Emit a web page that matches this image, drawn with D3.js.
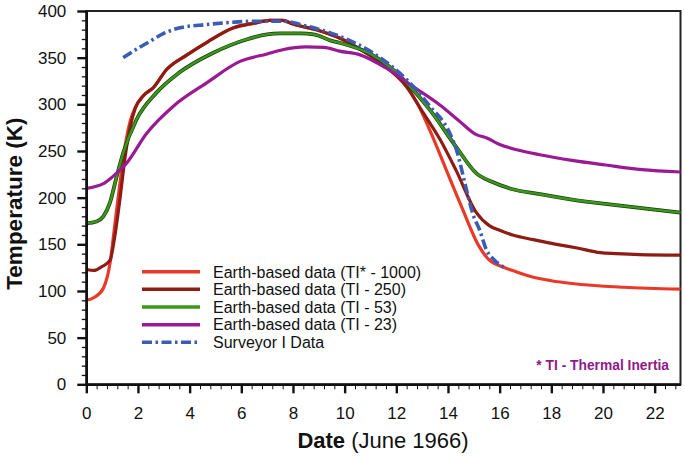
<!DOCTYPE html>
<html>
<head>
<meta charset="utf-8">
<script src="https://cdn.jsdelivr.net/npm/d3@7"></script>
<style>
    body { margin: 0; background: #fff; }
    svg { font-family: "Liberation Sans", Arial, sans-serif; }
</style>
</head>
<body>
<script>
//each series is a list of [day, temperature] pairs
let ti1000 = [[0,90],[0.3,93],[0.66,103],[0.92,130],[1.1,170],[1.3,215],[1.5,255],[1.7,282],[1.9,297],[2.2,309],[2.6,318],[3.1,337],[3.9,353],[4.7,367],[5.7,382],[6.5,387],[7.1,390],[7.6,390],[8.0,386],[8.9,380],[9.8,371],[10.6,359],[11.7,338],[12.3,322],[12.8,302],[13.3,272],[13.9,232],[14.5,192],[15.2,148],[15.6,133],[16.0,127],[16.5,122],[17.2,115.5],[18.0,111],[18.8,108],[20.8,104],[23,102]];
let ti250 = [[0,123],[0.3,122],[0.6,126],[0.92,133],[1.1,158],[1.3,198],[1.5,243],[1.7,276],[1.9,296],[2.2,309],[2.6,318],[3.1,337],[3.9,353],[4.7,367],[5.7,382],[6.5,387],[7.1,390],[7.6,390],[8.0,386],[8.9,380],[9.8,371],[10.6,359],[11.7,338],[12.4,319],[12.9,297],[13.7,262],[14.3,230],[15.1,184],[15.6,170],[16.0,165],[16.5,160],[17.3,155],[18.2,150],[19.0,146],[19.9,141],[20.5,140],[21.4,139],[23,138.5]];
let ti53 = [[0,172.5],[0.4,174.5],[0.66,180],[0.92,195],[1.17,222],[1.43,248],[1.95,284],[2.7,312],[3.6,334],[4.9,355],[6.2,369.5],[7.0,375],[7.5,376],[8.3,376],[8.8,375],[9.5,368],[9.8,366],[10.5,360],[11.0,354],[11.75,340],[12.4,323],[13.3,294],[14.3,255],[15.1,226],[15.7,217],[16.5,209],[17.5,204],[18.8,198],[20.5,192],[23,184]];
let ti23 = [[0,210],[0.66,215],[1.0,222],[1.56,237],[2.34,269],[3.37,298],[4.66,323],[5.95,346],[7.0,354],[7.6,358.5],[8.5,361.5],[9.2,361],[9.8,357],[10.6,353],[11.6,339],[12.65,319],[13.7,299],[14.4,283],[15.1,267.5],[15.5,264],[16.0,257],[16.7,251],[17.55,246],[18.8,240],[20.1,235],[21.5,230],[23,227.5]];
let surveyor = [[1.43,350],[2.0,360],[2.46,367.5],[3.0,376],[3.62,382],[4.66,385.5],[5.68,388],[6.5,389],[7.62,389],[8.5,384],[9.8,373],[11.1,355],[12.4,326.5],[13.3,298],[14.07,269],[14.33,251],[14.72,208],[14.97,182],[15.23,165],[15.49,144],[15.8,133],[16.26,124]];

let seriesLabels = ['Earth-based data (TI* - 1000)', 'Earth-based data (TI - 250)', 'Earth-based data (TI - 53)', 'Earth-based data (TI - 23)', 'Surveyor I Data'];
let xTicks = [0, 2, 4, 6, 8, 10, 12, 14, 16, 18, 20, 22];
let yTicks = [0, 50, 100, 150, 200, 250, 300, 350, 400];

//chart constants
let totalWidth = 685;
let totalHeight = 459;
let margins = {
    top: 11,
    right: 4.5,
    bottom: 74.7,
    left: 86.3
};

let series = [
    { data: ti1000, color: '#e83a28', width: 3.2 },
    { data: ti250, color: '#8e1c14', width: 3.2 },
    { data: ti53, color: '#3a9a18', width: 2.4, outline: true },
    { data: ti23, color: '#9a1a94', width: 3.2 },
    { data: surveyor, color: '#3a5cb6', width: 3.6, dash: '10,3.5,2.5,3.5' }
];

let xScale = d3.scaleLinear()
    .domain([0, 23])
    .range([margins.left, totalWidth - margins.right]);

let yScale = d3.scaleLinear()
    .domain([0, 400])
    .range([totalHeight - margins.bottom, margins.top]);

let svg = d3.select('body')
    .append('svg')
    .attr('width', totalWidth)
    .attr('height', totalHeight);

//frame round the plot
svg.append('rect')
    .attr('x', xScale(0))
    .attr('y', yScale(400))
    .attr('width', xScale(23) - xScale(0))
    .attr('height', yScale(0) - yScale(400))
    .attr('fill', 'none')
    .attr('stroke', '#222')
    .attr('stroke-width', 2);

let line = d3.line()
    .x(function(d){ return xScale(d[0]) })
    .y(function(d){ return yScale(d[1]) })
    .curve(d3.curveMonotoneX);

let curves = svg.append('g').attr('id', 'curves');

for (let i=0; i<series.length; i++){
    let s = series[i];
    //green curve has a thin dark edge
    if (s.outline){
        curves.append('path')
            .attr('d', line(s.data))
            .attr('fill', 'none')
            .attr('stroke', '#1c3a10')
            .attr('stroke-width', s.width + 1.4);
    }
    curves.append('path')
        .attr('d', line(s.data))
        .attr('fill', 'none')
        .attr('stroke', s.color)
        .attr('stroke-width', s.width)
        .attr('stroke-dasharray', s.dash || null)
        .attr('stroke-linejoin', 'round');
}

//minor ticks first, then the labelled ones
svg.append('g')
    .attr('transform', `translate(0, ${yScale(0)})`)
    .call(d3.axisBottom(xScale).tickValues(d3.range(0, 23.01, 0.4)).tickSize(5).tickFormat(''))
    .call(g => g.select('.domain').remove())
    .call(g => g.selectAll('line').attr('stroke', '#111').attr('stroke-width', 1));

svg.append('g')
    .attr('transform', `translate(${xScale(0)}, 0)`)
    .call(d3.axisLeft(yScale).tickValues(d3.range(0, 401, 10)).tickSize(4.5).tickFormat(''))
    .call(g => g.select('.domain').remove())
    .call(g => g.selectAll('line').attr('stroke', '#111').attr('stroke-width', 1.3));

let xAxis = svg.append('g')
    .attr('transform', `translate(0, ${yScale(0)})`)
    .call(d3.axisBottom(xScale).tickValues(xTicks).tickSize(9).tickPadding(14).tickSizeOuter(0));

let yAxis = svg.append('g')
    .attr('transform', `translate(${xScale(0)}, 0)`)
    .call(d3.axisLeft(yScale).tickValues(yTicks).tickSize(9).tickPadding(11).tickSizeOuter(0));

[xAxis, yAxis].forEach(function(ax){
    ax.select('.domain').attr('stroke', '#111').attr('stroke-width', 2.4);
    ax.selectAll('line').attr('stroke', '#111').attr('stroke-width', 2.4);
    ax.selectAll('text')
        .style('font-family', '"Liberation Sans", Arial, sans-serif')
        .style('font-size', '17px')
        .attr('fill', '#111');
});

//axis titles
svg.append('text')
    .attr('transform', `translate(21.5, ${(yScale(0) + yScale(400)) / 2 + 6}) rotate(-90)`)
    .attr('text-anchor', 'middle')
    .style('font-size', '22.5px')
    .style('font-weight', 'bold')
    .attr('fill', '#111')
    .text('Temperature (K)');

let xTitle = svg.append('text')
    .attr('x', 383)
    .attr('y', 448)
    .attr('text-anchor', 'middle')
    .style('font-size', '22px')
    .attr('fill', '#111');
xTitle.append('tspan').style('font-weight', 'bold').text('Date ');
xTitle.append('tspan').text('(June 1966)');

//legend
let legend = svg.append('g').attr('id', 'legend');
for (let i=0; i<series.length; i++){
    let rowY = 271.7 + i * 17.65;
    legend.append('line')
        .attr('x1', 142)
        .attr('x2', 200)
        .attr('y1', rowY)
        .attr('y2', rowY)
        .attr('stroke', series[i].color)
        .attr('stroke-width', 3.5)
        .attr('stroke-dasharray', series[i].dash || null);
    legend.append('text')
        .attr('x', 213)
        .attr('y', rowY + 5.8)
        .style('font-size', '16px')
        .attr('fill', '#111')
        .text(seriesLabels[i]);
}

svg.append('text')
    .attr('x', 669)
    .attr('y', 370)
    .attr('text-anchor', 'end')
    .style('font-size', '13.8px')
    .style('font-weight', 'bold')
    .attr('fill', '#8e1a8a')
    .text('* TI - Thermal Inertia');
</script>
</body>
</html>
